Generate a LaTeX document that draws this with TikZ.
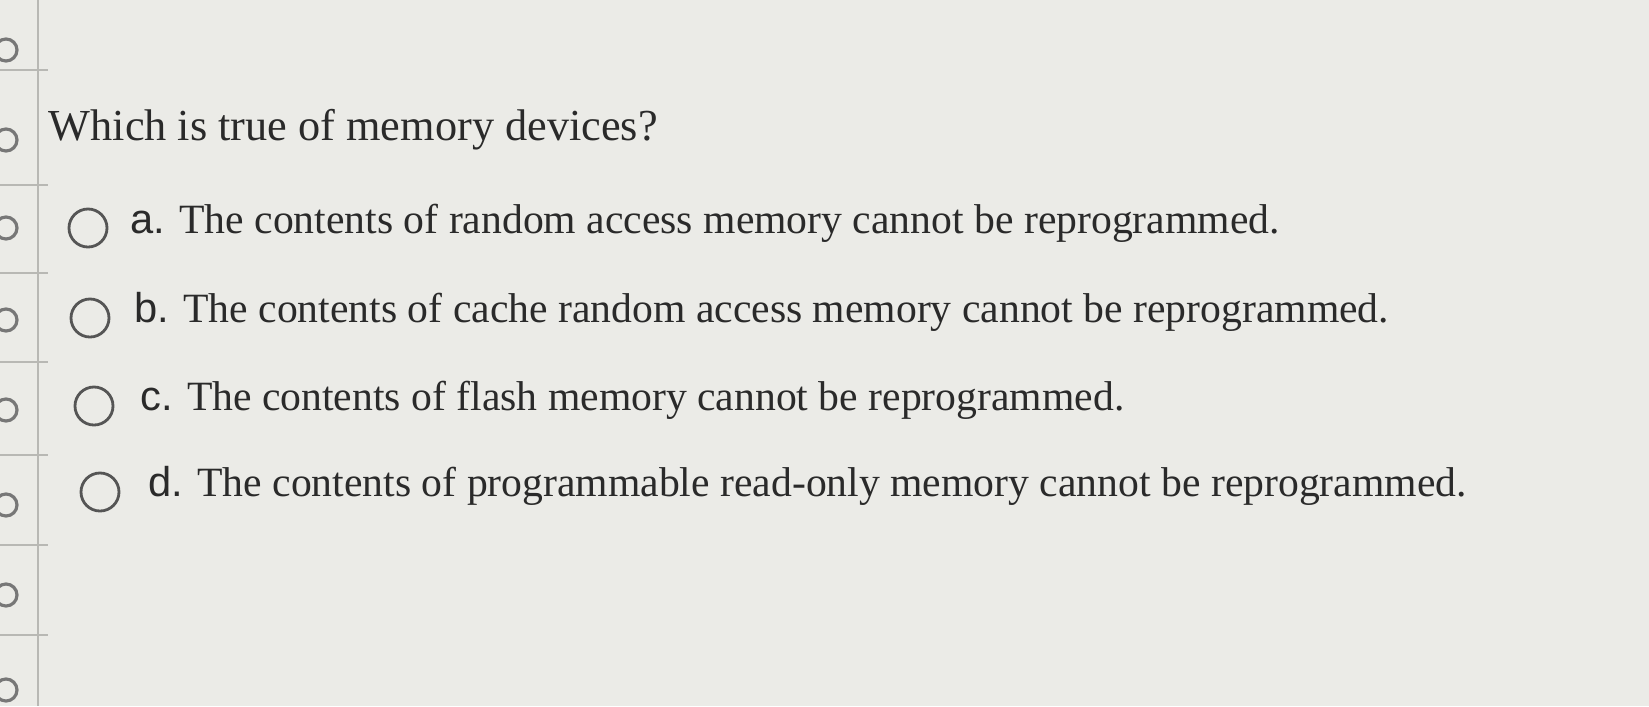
\documentclass[tikz,border=0pt]{standalone}
\usepackage{fontspec}
\setmainfont{Liberation Serif}
\newfontfamily\lab{Liberation Sans}
\definecolor{bg}{HTML}{EBEBE7}
\definecolor{ink}{HTML}{2A2A2A}
\definecolor{rc}{HTML}{555555}
\definecolor{ln}{HTML}{B8B8B4}
\begin{document}
\begin{tikzpicture}[x=0.01cm,y=-0.01cm,
  opt/.style={anchor=base west,inner sep=0,text=ink,font=\fontsize{11.85pt}{13pt}\selectfont},
  radio/.style={circle,draw=rc,line width=0.8pt,minimum size=0.38cm,inner sep=0},
  side/.style={circle,draw=rc!80,line width=0.9pt,minimum size=0.22cm,inner sep=0},
  sep/.style={draw=ln,line width=0.8pt}]
\fill[bg] (0,0) rectangle (1649,706);
\useasboundingbox (0,0) rectangle (1649,706);
\draw[sep] (38,0) -- (38,706);
\foreach \y in {70,185,273,362,455,545,635} \draw[sep] (0,\y) -- (48,\y);
\foreach \y/\n in {50/s1,140/s2,228/s3,320/s4,410/s5,505/s6,595/s7,690/s8}
  \node[side] (\n) at (6,\y) {};
\node[opt,font=\fontsize{12.6pt}{14pt}\selectfont] (q) at (48,140) {Which is true of memory devices?};
\node[radio] (ra) at (88,228) {};
\node[radio] (rb) at (90,318) {};
\node[radio] (rc) at (94,406) {};
\node[radio] (rd) at (100,492) {};
\node[opt] (a) at (130,233) {{\lab a.} The contents of random access memory cannot be reprogrammed.};
\node[opt] (b) at (134,322) {{\lab b.} The contents of cache random access memory cannot be reprogrammed.};
\node[opt] (c) at (140,410) {{\lab c.} The contents of flash memory cannot be reprogrammed.};
\node[opt] (d) at (148,496) {{\lab d.} The contents of programmable read-only memory cannot be reprogrammed.};
\end{tikzpicture}
\end{document}
